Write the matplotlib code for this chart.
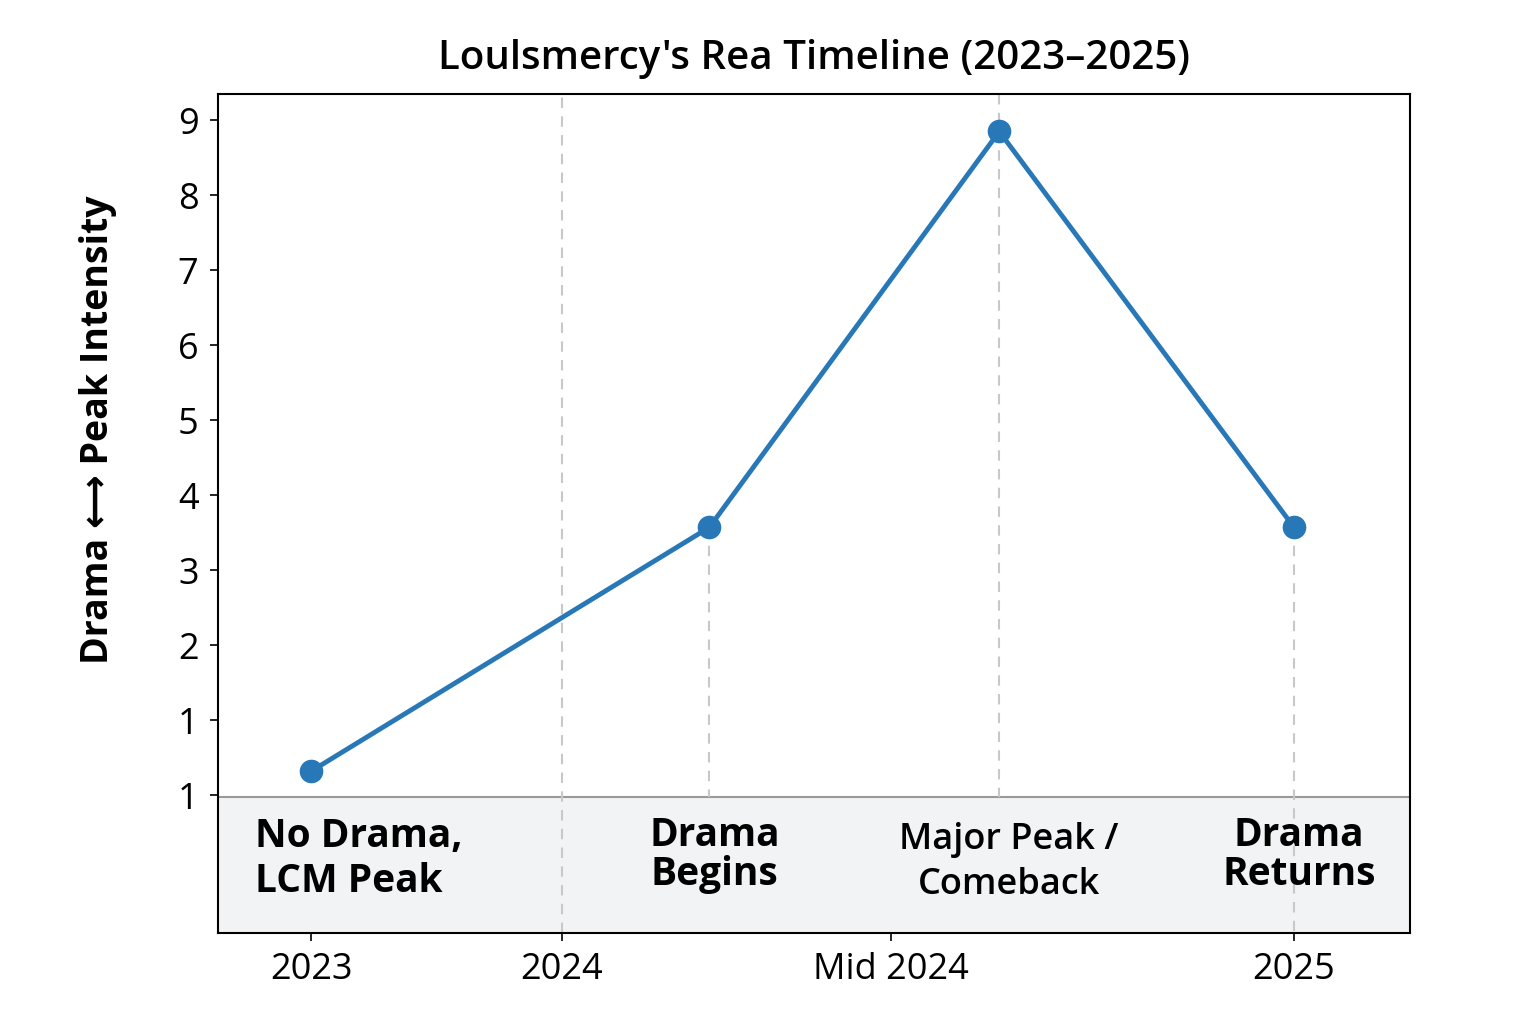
import matplotlib
matplotlib.use("Agg")
import matplotlib.pyplot as plt

plt.rcParams['font.family'] = ['Open Sans', 'DejaVu Sans']

x_pts = [2023.0, 2023.81, 2024.40, 2025.0]
y_pts = [0.32, 3.57, 8.85, 3.57]
xtick_pos = [2023.0, 2023.51, 2024.18, 2025.0]
xtick_labels = ['2023', '2024', 'Mid 2024', '2025']
ytick_pos = [0, 1, 2, 3, 4, 5, 6, 7, 8, 9]
ytick_labels = ['1', '1', '2', '3', '4', '5', '6', '7', '8', '9']
event_labels = ['No Drama,\nLCM Peak', 'Drama\nBegins', 'Major Peak /\nComeback', 'Drama\nReturns']

fig = plt.figure(figsize=(15.36, 10.24), dpi=100)
ax = fig.add_axes([218/1536, 1-933/1024, (1410-218)/1536, (933-94)/1024])
ax.set_xlim(2022.81, 2025.236)
ax.set_ylim(-1.84, 9.35)

ax.axhspan(-1.84, -0.03, color='#f2f3f4', zorder=0)
ax.axhline(-0.03, color='#999999', lw=1.5, zorder=1)

dash = dict(color='#c8c8cc', ls=(0, (5, 4)), lw=1.5, zorder=1)
ax.axvline(xtick_pos[1], **dash)
ax.plot([x_pts[1], x_pts[1]], [y_pts[1], -0.03], **dash)
ax.plot([x_pts[2], x_pts[2]], [9.35, -0.03], **dash)
ax.plot([x_pts[3], x_pts[3]], [y_pts[3], -1.84], **dash)

ax.plot(x_pts, y_pts, color='#2878b8', lw=3.5, marker='o', ms=16, zorder=3)

ax.text(2022.885, -0.85, event_labels[0], fontsize=28, fontweight='bold', ha='left', va='center', linespacing=1.2)
ax.text(x_pts[1] + 0.01, -0.8, event_labels[1], fontsize=28, fontweight='bold', ha='center', va='center', linespacing=1.0)
ax.text(x_pts[2] + 0.02, -0.9, event_labels[2], fontsize=26, fontweight='semibold', ha='center', va='center', linespacing=1.3)
ax.text(x_pts[3] + 0.01, -0.8, event_labels[3], fontsize=28, fontweight='bold', ha='center', va='center', linespacing=1.0)

ax.set_xticks(xtick_pos)
ax.set_xticklabels(xtick_labels, fontsize=26)
ax.set_yticks(ytick_pos)
ax.set_yticklabels(ytick_labels, fontsize=26)
ax.tick_params(length=6, width=1.2, pad=8)
for s in ax.spines.values():
    s.set_linewidth(1.5)
ax.set_ylabel('Drama ⟷ Peak Intensity', fontsize=27, fontweight='bold')
ax.yaxis.set_label_coords(-0.085, 0.6)
ax.set_title("Loulsmercy's Rea Timeline (2023–2025)", fontsize=29, fontweight='semibold', pad=18)

fig.savefig('out.png', dpi=100, facecolor='white')
